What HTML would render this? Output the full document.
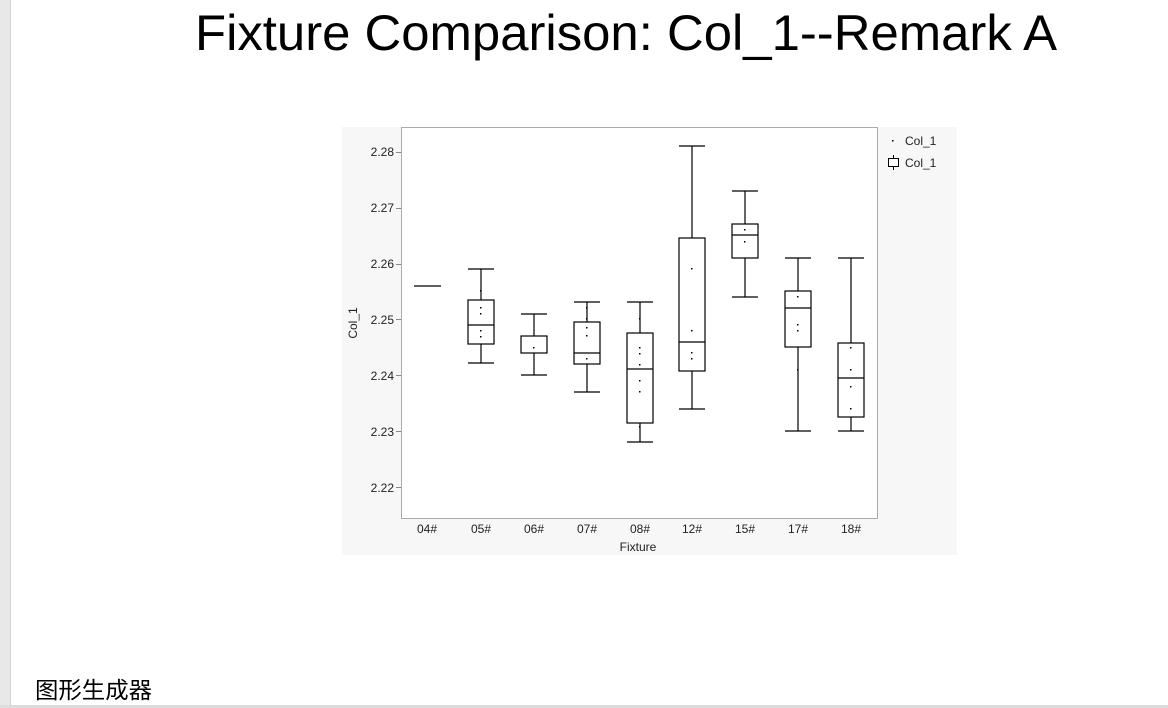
<!DOCTYPE html>
<html><head><meta charset="utf-8"><style>
html,body{margin:0;padding:0;background:#fff;width:1168px;height:708px;overflow:hidden}
svg{display:block}
</style></head><body>
<svg width="1168" height="708" xmlns="http://www.w3.org/2000/svg" font-family="Liberation Sans, sans-serif">
<rect x="0" y="0" width="1168" height="708" fill="#fff"/>
<rect x="0" y="0" width="10" height="708" fill="#e8e8e8"/>
<line x1="10.5" y1="0" x2="10.5" y2="708" stroke="#d4d4d4"/>
<rect x="0" y="705" width="1168" height="3" fill="#dcdcdc"/>
<text x="195" y="50" font-size="50" textLength="862" lengthAdjust="spacingAndGlyphs" fill="#000">Fixture Comparison: Col_1--Remark A</text>
<text x="35" y="698" font-size="23" textLength="117" lengthAdjust="spacingAndGlyphs" font-family="Liberation Sans, Noto Sans CJK SC, sans-serif" fill="#000">图形生成器</text>
<rect x="342" y="127" width="615" height="428" fill="#f7f7f7"/>
<rect x="401.5" y="127.5" width="476" height="391" fill="#fff" stroke="#aaa"/>
<g font-size="12" fill="#222" text-anchor="end">
<text x="394" y="156">2.28</text><text x="394" y="212">2.27</text><text x="394" y="268">2.26</text>
<text x="394" y="324">2.25</text><text x="394" y="380">2.24</text><text x="394" y="436">2.23</text><text x="394" y="492">2.22</text>
</g>
<g stroke="#888"><line x1="396" y1="152.5" x2="401" y2="152.5"/><line x1="396" y1="208.5" x2="401" y2="208.5"/><line x1="396" y1="264.5" x2="401" y2="264.5"/><line x1="396" y1="319.5" x2="401" y2="319.5"/><line x1="396" y1="375.5" x2="401" y2="375.5"/><line x1="396" y1="431.5" x2="401" y2="431.5"/><line x1="396" y1="487.5" x2="401" y2="487.5"/></g>
<text transform="translate(357,323) rotate(-90)" font-size="12" fill="#222" text-anchor="middle">Col_1</text>
<g font-size="12" fill="#222" text-anchor="middle">
<text x="427" y="533">04#</text><text x="481" y="533">05#</text><text x="534" y="533">06#</text><text x="587" y="533">07#</text><text x="640" y="533">08#</text><text x="692" y="533">12#</text><text x="745" y="533">15#</text><text x="798" y="533">17#</text><text x="851" y="533">18#</text>
<text x="638" y="551">Fixture</text>
</g>
<g stroke="#000" stroke-width="1.2" fill="none">
<line x1="414" y1="286" x2="441" y2="286"/>
<line x1="481" y1="269" x2="481" y2="363"/><line x1="468" y1="269" x2="494" y2="269"/><line x1="468" y1="363" x2="494" y2="363"/>
<rect x="468" y="300" width="26" height="44" fill="#fff"/><line x1="468" y1="325" x2="494" y2="325"/>
<line x1="534" y1="314" x2="534" y2="375"/><line x1="521" y1="314" x2="547" y2="314"/><line x1="521" y1="375" x2="547" y2="375"/>
<rect x="521" y="336" width="26" height="17" fill="#fff"/>
<line x1="587" y1="302" x2="587" y2="392"/><line x1="574" y1="302" x2="600" y2="302"/><line x1="574" y1="392" x2="600" y2="392"/>
<rect x="574" y="322" width="26" height="42" fill="#fff"/><line x1="574" y1="353" x2="600" y2="353"/>
<line x1="640" y1="302" x2="640" y2="442"/><line x1="627" y1="302" x2="653" y2="302"/><line x1="627" y1="442" x2="653" y2="442"/>
<rect x="627" y="333" width="26" height="90" fill="#fff"/><line x1="627" y1="369" x2="653" y2="369"/>
<line x1="692" y1="146" x2="692" y2="409"/><line x1="679" y1="146" x2="705" y2="146"/><line x1="679" y1="409" x2="705" y2="409"/>
<rect x="679" y="238" width="26" height="133" fill="#fff"/><line x1="679" y1="342" x2="705" y2="342"/>
<line x1="745" y1="191" x2="745" y2="297"/><line x1="732" y1="191" x2="758" y2="191"/><line x1="732" y1="297" x2="758" y2="297"/>
<rect x="732" y="224" width="26" height="34" fill="#fff"/><line x1="732" y1="235" x2="758" y2="235"/>
<line x1="798" y1="258" x2="798" y2="431"/><line x1="785" y1="258" x2="811" y2="258"/><line x1="785" y1="431" x2="811" y2="431"/>
<rect x="785" y="291" width="26" height="56" fill="#fff"/><line x1="785" y1="308" x2="811" y2="308"/>
<line x1="851" y1="258" x2="851" y2="431"/><line x1="838" y1="258" x2="864" y2="258"/><line x1="838" y1="431" x2="864" y2="431"/>
<rect x="838" y="343" width="26" height="74" fill="#fff"/><line x1="838" y1="378" x2="864" y2="378"/>
</g>
<g fill="#000">
<rect x="480" y="290" width="1.5" height="1.5"/><rect x="480" y="307" width="1.5" height="1.5"/><rect x="480" y="313" width="1.5" height="1.5"/><rect x="480" y="330" width="1.5" height="1.5"/><rect x="480" y="336" width="1.5" height="1.5"/>
<rect x="533" y="347" width="1.5" height="1.5"/>
<rect x="586" y="307" width="1.5" height="1.5"/><rect x="586" y="318" width="1.5" height="1.5"/><rect x="586" y="327" width="1.5" height="1.5"/><rect x="586" y="335" width="1.5" height="1.5"/><rect x="586" y="358" width="1.5" height="1.5"/>
<rect x="639" y="318" width="1.5" height="1.5"/><rect x="639" y="347" width="1.5" height="1.5"/><rect x="639" y="353" width="1.5" height="1.5"/><rect x="639" y="364" width="1.5" height="1.5"/><rect x="639" y="380" width="1.5" height="1.5"/><rect x="639" y="391" width="1.5" height="1.5"/><rect x="639" y="426" width="1.5" height="1.5"/>
<rect x="691" y="268" width="1.5" height="1.5"/><rect x="691" y="330" width="1.5" height="1.5"/><rect x="691" y="352" width="1.5" height="1.5"/><rect x="691" y="358" width="1.5" height="1.5"/>
<rect x="744" y="229" width="1.5" height="1.5"/><rect x="744" y="241" width="1.5" height="1.5"/>
<rect x="797" y="296" width="1.5" height="1.5"/><rect x="797" y="324" width="1.5" height="1.5"/><rect x="797" y="330" width="1.5" height="1.5"/><rect x="797" y="369" width="1.5" height="1.5"/>
<rect x="850" y="347" width="1.5" height="1.5"/><rect x="850" y="369" width="1.5" height="1.5"/><rect x="850" y="386" width="1.5" height="1.5"/><rect x="850" y="408" width="1.5" height="1.5"/>
</g>
<rect x="892" y="140" width="1.5" height="1.5" fill="#000"/>
<text x="905" y="145" font-size="12" fill="#222">Col_1</text>
<g stroke="#000" stroke-width="1" fill="#fff"><line x1="893.5" y1="155" x2="893.5" y2="170"/><rect x="888.5" y="158.5" width="10" height="8"/></g>
<text x="905" y="167" font-size="12" fill="#222">Col_1</text>
</svg>
</body></html>
